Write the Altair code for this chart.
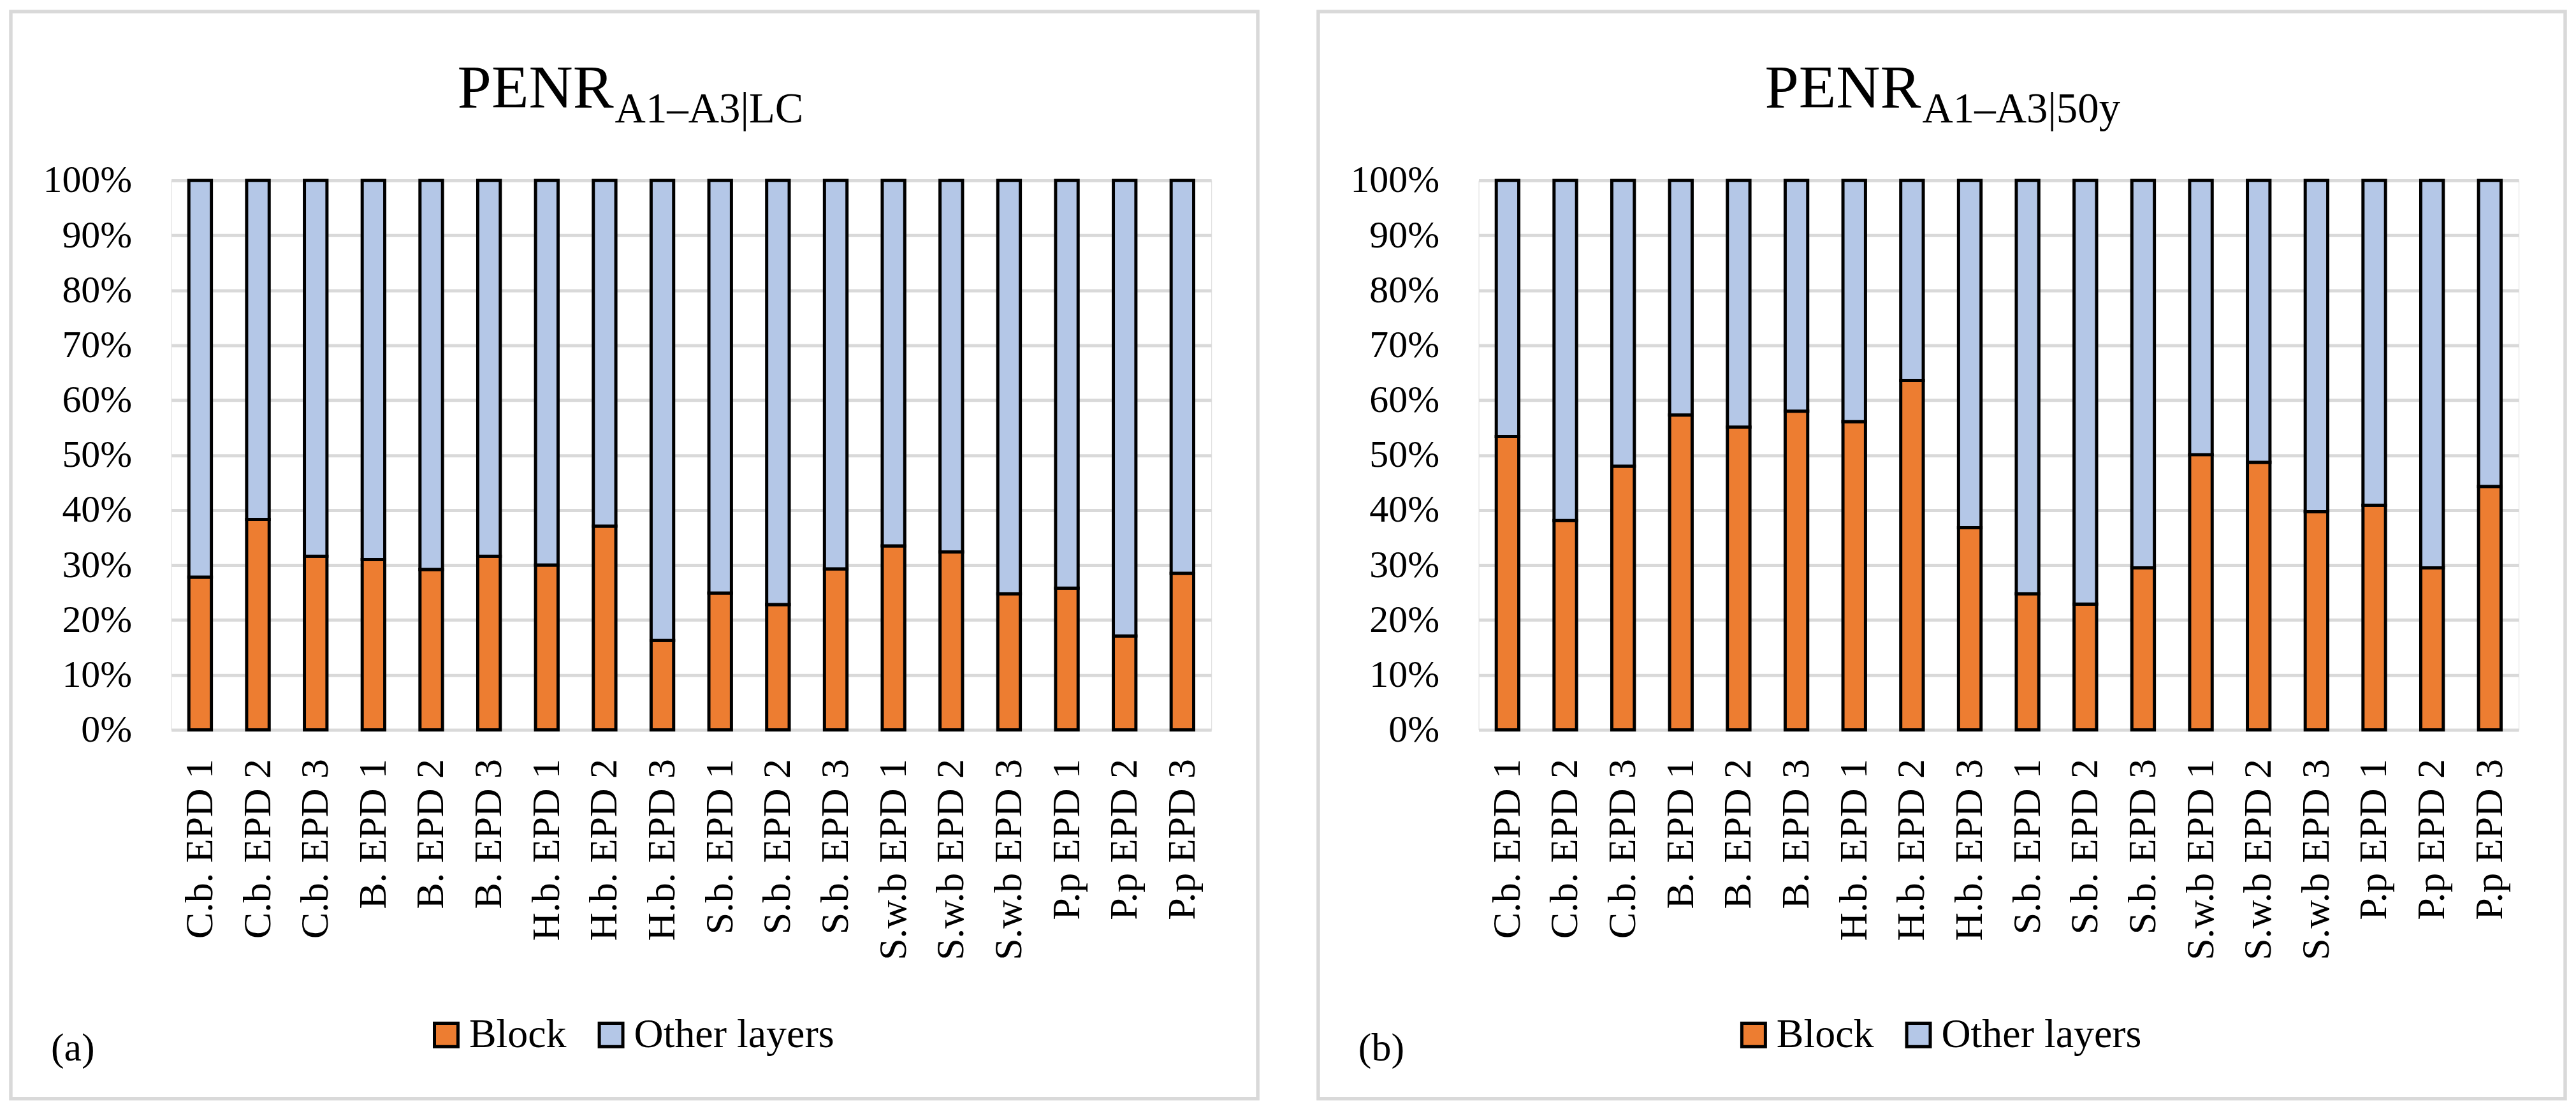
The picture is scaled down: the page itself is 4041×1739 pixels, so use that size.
import altair as alt
import pandas as pd

categories = ["C.b. EPD 1", "C.b. EPD 2", "C.b. EPD 3", "B. EPD 1", "B. EPD 2", "B. EPD 3",
              "H.b. EPD 1", "H.b. EPD 2", "H.b. EPD 3", "S.b. EPD 1", "S.b. EPD 2", "S.b. EPD 3",
              "S.w.b EPD 1", "S.w.b EPD 2", "S.w.b EPD 3", "P.p EPD 1", "P.p EPD 2", "P.p EPD 3"]
layers = ["Block", "Other layers"]
layer_colors = ["#ED7D31", "#B4C7E7"]

# panel (a): PENR A1-A3 | LC  (percent)
a_block = [27.8, 38.3, 31.6, 31.0, 29.2, 31.6, 30.0, 37.1, 16.3, 24.9, 22.8, 29.3, 33.5, 32.4, 24.8, 25.8, 17.1, 28.5]
a_other = [72.2, 61.7, 68.4, 69.0, 70.8, 68.4, 70.0, 62.9, 83.7, 75.1, 77.2, 70.7, 66.5, 67.6, 75.2, 74.2, 82.9, 71.5]
# panel (b): PENR A1-A3 | 50y (percent)
b_block = [53.4, 38.1, 48.0, 57.3, 55.1, 58.0, 56.1, 63.6, 36.8, 24.8, 22.9, 29.5, 50.1, 48.7, 39.7, 40.9, 29.5, 44.3]
b_other = [46.6, 61.9, 52.0, 42.7, 44.9, 42.0, 43.9, 36.4, 63.2, 75.2, 77.1, 70.5, 49.9, 51.3, 60.3, 59.1, 70.5, 55.7]

y_ticks = [0, 0.1, 0.2, 0.3, 0.4, 0.5, 0.6, 0.7, 0.8, 0.9, 1.0]

FONT = "Liberation Serif"
W, H = 1634, 863


def panel(block, other, subscript, tag):
    rows = []
    for c, b, o in zip(categories, block, other):
        rows.append({"cat": c, "layer": "Block", "value": b, "rank": 0})
        rows.append({"cat": c, "layer": "Other layers", "value": o, "rank": 1})
    df = pd.DataFrame(rows)

    bars = alt.Chart(df).mark_bar(stroke="black", strokeWidth=5).encode(
        x=alt.X("cat:N", sort=categories,
                scale=alt.Scale(paddingInner=0.61, paddingOuter=0.305),
                axis=alt.Axis(title=None, labelAngle=270, labelFontSize=62, labelPadding=45,
                              ticks=False, tickSize=0, domain=False, grid=False, labelLimit=800,
                              labelFont=FONT, labelColor="black")),
        y=alt.Y("value:Q", stack="normalize",
                scale=alt.Scale(domain=[0, 1], nice=False),
                axis=alt.Axis(title=None, values=y_ticks, format=".0%", labelFontSize=60,
                              labelPadding=62, ticks=False, tickSize=0, domain=False,
                              grid=True, gridColor="#D9D9D9", gridWidth=5,
                              labelFont=FONT, labelColor="black")),
        color=alt.Color("layer:N", scale=alt.Scale(domain=layers, range=layer_colors),
                        legend=alt.Legend(title=None, orient="none", legendX=400, legendY=1310,
                                          direction="horizontal", symbolType="square",
                                          symbolSize=1369, symbolStrokeColor="black",
                                          symbolStrokeWidth=5, symbolOpacity=1,
                                          labelFontSize=64, labelFont=FONT, labelColor="black",
                                          labelLimit=800, labelOffset=4, columnPadding=38)),
        order=alt.Order("rank:Q"),
    )

    one = alt.Data(values=[{"k": 1}])
    border = alt.Chart(one).mark_rect(fillOpacity=0, stroke="#D9D9D9", strokeWidth=5.5).encode(
        x=alt.value(-252), x2=alt.value(1707), y=alt.value(-265), y2=alt.value(1442))
    t_main = alt.Chart(one).mark_text(align="right", baseline="alphabetic", fontSize=96,
                                      font=FONT, color="black").encode(
        x=alt.value(695), y=alt.value(-114), text=alt.value("PENR"))
    t_sub = alt.Chart(one).mark_text(align="left", baseline="alphabetic", fontSize=67,
                                     font=FONT, color="black").encode(
        x=alt.value(697), y=alt.value(-91), text=alt.value(subscript))
    t_tag = alt.Chart(one).mark_text(align="left", baseline="alphabetic", fontSize=62,
                                     font=FONT, color="black").encode(
        x=alt.value(-189), y=alt.value(1382), text=alt.value(tag))

    return alt.layer(border, bars, t_main, t_sub, t_tag).properties(width=W, height=H)


left = panel(a_block, a_other, "A1–A3|LC", "(a)")
right = panel(b_block, b_other, "A1–A3|50y", "(b)")

chart = alt.hconcat(left, right, spacing=87).resolve_scale(color="independent").resolve_legend(
    color="independent").configure_view(stroke=None).configure(font=FONT, background="white")

chart.save("out.html", embed_options={"renderer": "svg", "actions": False})
